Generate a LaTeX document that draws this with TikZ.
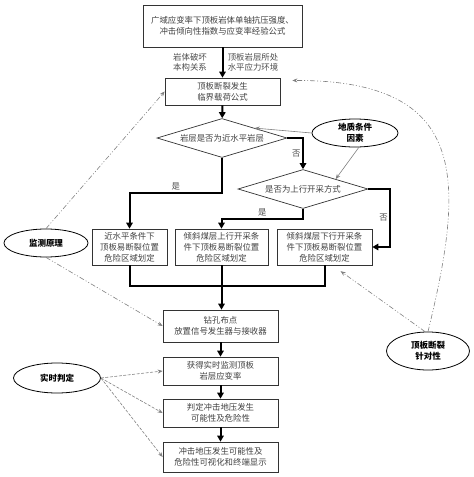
\documentclass[tikz,border=0pt]{standalone}
\usepackage{fontspec}
\newfontfamily\cjk{Noto Sans CJK SC}
\usetikzlibrary{shapes.geometric,arrows.meta}

\begin{document}
\begin{tikzpicture}[x=1pt,y=-1pt,
  box/.style={draw=black!80, line width=0.7pt, align=center, text=black!75, font=\cjk\fontsize{8.4}{11}\selectfont, inner sep=0pt},
  dia/.style={diamond, draw=black!80, line width=0.7pt, text=black!75, font=\cjk\fontsize{8.4}{10}\selectfont, inner sep=0pt, aspect=3.25, minimum width=130, minimum height=39},
  oval/.style={ellipse, draw=black, line width=0.8pt, align=center, font=\cjk\bfseries\fontsize{8.5}{11}\selectfont, inner sep=0pt},
  note/.style={align=center, text=black!70, font=\cjk\fontsize{8.4}{10}\selectfont, inner sep=1.5pt},
  flow/.style={line width=2pt, -{Triangle[length=6pt,width=6.5pt]}},
  hint/.style={black!50, line width=0.6pt, -{Stealth[length=5pt,width=4pt]}},
  hintdash/.style={hint, dash pattern=on 3pt off 1.5pt},
  link/.style={hint, dash pattern=on 5pt off 2pt on 1pt off 2pt on 1pt off 2pt}]
  \useasboundingbox (0,0) rectangle (474,477);

  % main column
  \node[box, minimum width=159, minimum height=42] (formula) at (222.5,26) {广域应变率下顶板岩体单轴抗压强度、\\冲击倾向性指数与应变率经验公式};
  \node[note] (rockLaw) at (190,62) {岩体破坏\\本构关系};
  \node[note] (stress) at (253,62) {顶板岩层所处\\水平应力环境};
  \node[box, minimum width=115, minimum height=27] (load) at (222.5,91.5) {顶板断裂发生\\临界载荷公式};
  \node[dia] (dA) at (222,138) {岩层是否为近水平岩层};
  \node[dia] (dB) at (303,189) {是否为上行开采方式};
  \node[box, minimum width=75, minimum height=36] (zoneA) at (129.5,247) {近水平条件下\\顶板易断裂位置\\危险区域划定};
  \node[box, minimum width=93, minimum height=36] (zoneB) at (221.5,247) {倾斜煤层上行开采条\\件下顶板易断裂位置\\危险区域划定};
  \node[box, minimum width=95, minimum height=36] (zoneC) at (324.5,247) {倾斜煤层下行开采条\\件下顶板易断裂位置\\危险区域划定};
  \node[box, minimum width=115, minimum height=32] (drill) at (220.5,326) {钻孔布点\\放置信号发生器与接收器};
  \node[box, minimum width=115, minimum height=28] (strain) at (220.5,371) {获得实时监测顶板\\岩层应变率};
  \node[box, minimum width=115, minimum height=28] (judge) at (220.5,413) {判定冲击地压发生\\可能性及危险性};
  \node[box, minimum width=115, minimum height=30] (display) at (220.5,457) {冲击地压发生可能性及\\危险性可视化和终端显示};

  % side ovals
  \node[oval, minimum width=84, minimum height=28] (monitor) at (46,243) {监测原理};
  \node[oval, minimum width=86, minimum height=28] (geo) at (355,133) {地质条件\\因素};
  \node[oval, minimum width=87, minimum height=30] (realtime) at (57,378) {实时判定};
  \node[oval, minimum width=83, minimum height=38] (target) at (428,351) {顶板断裂\\针对性};

  % thick flow
  \draw[flow] (formula) -- (load);
  \draw[flow] (load) -- (dA);
  \draw[flow] (dA.east) -| node[pos=0.75, left, note] (noA) {否} (dB.north);
  \draw[flow] (dA.south) -- (dA.south |- 0,193) -| node[pos=0.25, above, note] (yesA) {是} (zoneA.north);
  \draw[flow] (dB.south) -- (dB.south |- 0,219) -| node[pos=0.25, above, note] (yesB) {是} (zoneB.north);
  \draw[flow] (dB.east) -- ++(22,0) |- node[pos=0.25, left, note] (noB) {否} (zoneC.east);
  \draw[line width=2pt] (zoneA.south) |- (zoneC.south |- 0,286) -- (zoneC.south);
  \draw[flow] (zoneB.south) -- (zoneB.south |- drill.north);
  \draw[flow] (drill) -- (strain);
  \draw[flow] (strain) -- (judge);
  \draw[flow] (judge) -- (display);

  % thin links
  \draw[hint] (geo.west) -- (dA.north east);
  \draw[hint] (geo.-75) -- (dB.north east);
  \draw[link] (monitor.north) -- (load.west);
  \draw[link] (monitor.south) -- (drill.west);
  \draw[link, shorten >=12pt] (target.north) .. controls (465,180) and (470,80) .. ([yshift=11pt]load.east);
  \draw[link, shorten >=10pt] ([xshift=-3pt]target.north) -- ([xshift=8pt]zoneC.south);
  \draw[hintdash] (realtime.east) -- (strain.west);
  \draw[hintdash] (realtime.east) -- (judge.west);
  \draw[hintdash] (realtime.east) -- (display.west);
\end{tikzpicture}
\end{document}
